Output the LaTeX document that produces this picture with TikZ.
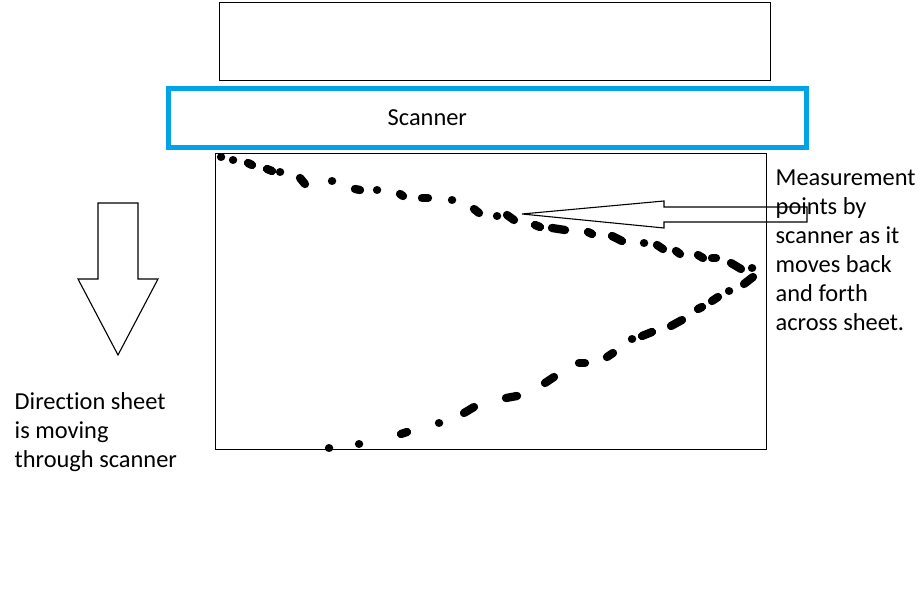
\documentclass[tikz,border=0pt]{standalone}
\usepackage{fontspec}
\setmainfont{Carlito}[Ligatures=NoCommon]
\usetikzlibrary{calc}
\definecolor{scannerblue}{RGB}{0,162,232}

\begin{document}
\begin{tikzpicture}[x=1pt, y=-1pt]
    \tikzstyle{thinline} = [draw=black, line width=1.1pt]
    \tikzstyle{mpoint} = [line width=8.3pt, line cap=round]
    \tikzstyle{notetext} = [font=\fontsize{24.4}{29}\selectfont, inner sep=0, align=left]

    \useasboundingbox (0, 0) rectangle (922, 615);

    % Scanner -------------------------------------------
    \draw[thinline] (219.5, 2.5) rectangle (770.5, 80.5);
    \draw[scannerblue, line width=5pt] (168, 88.5) rectangle (806.5, 148);
    \node[notetext, anchor=base west] (scanner) at (387.5, 126) {Scanner};
    % ---------------------------------------------------

    % Sheet ---------------------------------------------
    \draw[thinline] (215.5, 153.5) rectangle (766.5, 449.5);

    % Measurement points
    \foreach \xa/\ya/\xb/\yb in {
        221/157/221.1/157, 233/160/233.1/160, 248/163/252/165,
        267/169/272/171, 280/172/280.1/172, 300/178/305/184,
        332/181/332.1/181, 355/189/360/190, 377/190/377.1/190,
        400/194/403/196, 422/198/428/198, 452/200/452.1/200,
        474/209/479/213, 497/216/497.1/216, 507/215/514/220,
        535/225/540/227, 552/228/565/230, 588/232/592/234,
        612/236/622/241, 644/243/644.1/243, 657/245/663/249,
        676/251/680/254, 698/255/703/258, 712/258/716/258,
        731/263/741/269, 752/268/752.1/268, 744/284/753/277,
        729/291/729.1/291, 712/301/718/297, 698/309/702/307,
        671/326/682/320, 642/336/652/332, 632/339/632.1/339,
        607/357/613/353, 579/363/585/363, 545/383/554/377,
        506/398/517/396, 464/413/474/407, 439/423/439.1/423,
        401/434/407/432, 359/444/359.1/444, 329/448/329.1/448}
        \draw[mpoint] (\xa, \ya) -- (\xb, \yb);
    % ---------------------------------------------------

    % Direction of the sheet ----------------------------
    \draw[thinline] (98, 203) -- (138, 203) -- (138, 279) -- (158, 279)
        -- (118, 355) -- (78, 279) -- (98, 279) -- cycle;
    \node[notetext, anchor=north west] (direction) at (14.5, 392)
        {Direction sheet\\is moving\\through scanner};

    % Pointer to the points -----------------------------
    \draw[thinline] (807, 207) -- (664, 207) -- (664, 201) -- (522, 214)
        -- (664, 228) -- (664, 222) -- (807, 222) -- cycle;
    \node[notetext, anchor=north west] (points) at (775.5, 170)
        {Measurement\\points by\\scanner as it\\moves back\\and forth\\across sheet.};
\end{tikzpicture}
\end{document}
